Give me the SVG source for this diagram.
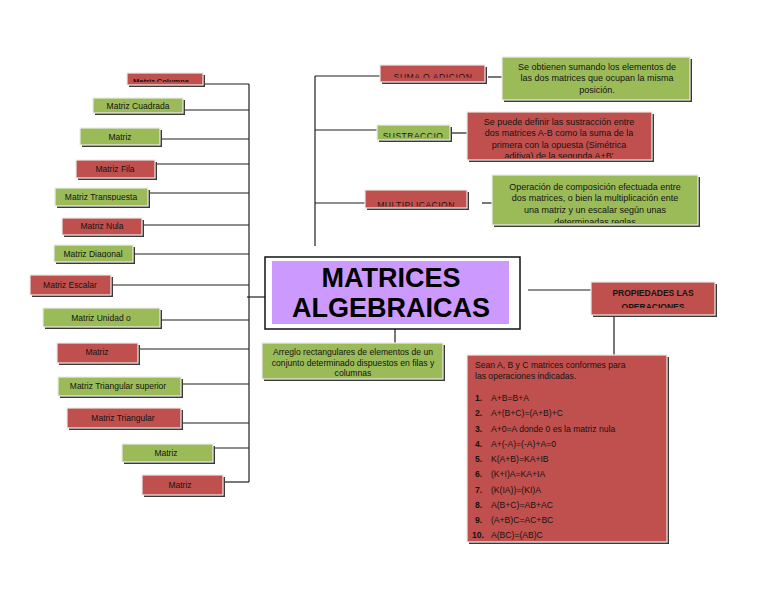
<svg xmlns="http://www.w3.org/2000/svg" width="768" height="594" viewBox="0 0 768 594">
<style>
.sh{fill:#3a3a3a}
.r{fill:#c0504d;stroke:#ececec;stroke-width:1.2}
.g{fill:#9bbb59;stroke:#ececec;stroke-width:1.2}
.ln{stroke:#1e1e1e;stroke-width:1.2;fill:none}
.t{font-family:"Liberation Sans",Arial,sans-serif;font-size:8.5px;fill:#141414;text-anchor:middle}
.d{font-family:"Liberation Sans",Arial,sans-serif;font-size:9px;fill:#141414;text-anchor:middle}
.b{font-weight:bold}
.l{font-family:"Liberation Sans",Arial,sans-serif;font-size:8.6px;fill:#141414}
.title{font-family:"Liberation Sans",Arial,sans-serif;font-size:27px;font-weight:bold;fill:#000;text-anchor:middle}
</style>
<defs>
<clipPath id="c1"><rect x="127" y="73" width="76" height="9"/></clipPath>
<clipPath id="c5"><rect x="55" y="188" width="93" height="12.5"/></clipPath>
<clipPath id="c7"><rect x="54" y="245" width="79" height="12.5"/></clipPath>
<clipPath id="cs"><rect x="380" y="65" width="105" height="12.8"/></clipPath>
<clipPath id="cu"><rect x="377" y="125" width="73" height="12.5"/></clipPath>
<clipPath id="cm"><rect x="365" y="190" width="102" height="16.5"/></clipPath>
<clipPath id="cp"><rect x="591" y="282" width="124" height="26"/></clipPath>
<clipPath id="cr"><rect x="467" y="112" width="185" height="46"/></clipPath>
<clipPath id="cg"><rect x="492" y="175" width="206" height="48"/></clipPath>
</defs>

<g id="connectors">
<path class="ln" d="M249 84V482"/>
<path class="ln" d="M205 84H249"/>
<path class="ln" d="M185 110H249"/>
<path class="ln" d="M162 139H249"/>
<path class="ln" d="M157 164H249"/>
<path class="ln" d="M150 193H249"/>
<path class="ln" d="M144 225H249"/>
<path class="ln" d="M135 254H249"/>
<path class="ln" d="M113 285H249"/>
<path class="ln" d="M162 320H249"/>
<path class="ln" d="M140 349H249"/>
<path class="ln" d="M183 384H249"/>
<path class="ln" d="M183 423H249"/>
<path class="ln" d="M215 448H249"/>
<path class="ln" d="M225 482H249"/>
<path class="ln" d="M247 297H265"/>
<path class="ln" d="M315 76V246"/>
<path class="ln" d="M315 76H380"/>
<path class="ln" d="M315 130H377"/>
<path class="ln" d="M315 203H365"/>
<path class="ln" d="M488 77H502"/>
<path class="ln" d="M452 133H467"/>
<path class="ln" d="M482 203H492"/>
<path class="ln" d="M395 329V343"/>
<path class="ln" d="M528 290H591"/>
<path class="ln" d="M614 316V355"/>
</g>

<g id="n-columna"><rect class="sh" x="129" y="75" width="76" height="12"/><rect class="r" x="127" y="73" width="76" height="12"/><text class="t b" x="161" y="83.5" clip-path="url(#c1)" style="font-size:7.5px">Matriz Columna</text></g>
<g id="n-cuadrada"><rect class="sh" x="95" y="100" width="90" height="15"/><rect class="g" x="93" y="98" width="90" height="15"/><text class="t" x="138" y="109">Matriz  Cuadrada</text></g>
<g id="n-matriz1"><rect class="sh" x="82" y="130" width="80" height="17"/><rect class="g" x="80" y="128" width="80" height="17"/><text class="t" x="120" y="140">Matriz</text></g>
<g id="n-fila"><rect class="sh" x="78" y="162" width="79" height="18"/><rect class="r" x="76" y="160" width="79" height="18"/><text class="t" x="115" y="172">Matriz  Fila</text></g>
<g id="n-transpuesta"><rect class="sh" x="57" y="190" width="93" height="18"/><rect class="g" x="55" y="188" width="93" height="18"/><text class="t" x="101" y="200" clip-path="url(#c5)">Matriz  Transpuesta</text></g>
<g id="n-nula"><rect class="sh" x="64" y="220" width="80" height="17"/><rect class="r" x="62" y="218" width="80" height="17"/><text class="t" x="102" y="229">Matriz  Nula</text></g>
<g id="n-diagonal"><rect class="sh" x="56" y="247" width="79" height="17"/><rect class="g" x="54" y="245" width="79" height="17"/><text class="t" x="93" y="257" clip-path="url(#c7)">Matriz  Diagonal</text></g>
<g id="n-escalar"><rect class="sh" x="32" y="277" width="81" height="20"/><rect class="r" x="30" y="275" width="81" height="20"/><text class="t" x="70" y="288">Matriz  Escalar</text></g>
<g id="n-unidad"><rect class="sh" x="45" y="310" width="117" height="19"/><rect class="g" x="43" y="308" width="117" height="19"/><text class="t" x="101" y="321">Matriz  Unidad o</text></g>
<g id="n-matriz2"><rect class="sh" x="59" y="345" width="81" height="20"/><rect class="r" x="57" y="343" width="81" height="20"/><text class="t" x="97" y="355">Matriz</text></g>
<g id="n-trisup"><rect class="sh" x="60" y="379" width="123" height="19"/><rect class="g" x="58" y="377" width="123" height="19"/><text class="t" x="118" y="389">Matriz  Triangular superior</text></g>
<g id="n-tri"><rect class="sh" x="69" y="410" width="114" height="20"/><rect class="r" x="67" y="408" width="114" height="20"/><text class="t" x="123" y="421">Matriz  Triangular</text></g>
<g id="n-matriz3"><rect class="sh" x="124" y="446" width="91" height="18"/><rect class="g" x="122" y="444" width="91" height="18"/><text class="t" x="166" y="456">Matriz</text></g>
<g id="n-matriz4"><rect class="sh" x="144" y="477" width="81" height="20"/><rect class="r" x="142" y="475" width="81" height="20"/><text class="t" x="180" y="488">Matriz</text></g>

<g id="n-suma"><rect class="sh" x="382" y="67" width="105" height="17"/><rect class="r" x="380" y="65" width="105" height="17"/><text class="t" x="433" y="79.5" clip-path="url(#cs)" style="letter-spacing:0.6px">SUMA O ADICION</text></g>
<g id="n-suma-desc"><rect class="sh" x="504" y="59" width="188" height="43"/><rect class="g" x="502" y="57" width="188" height="43"/>
<text class="d" x="597" y="70">Se obtienen sumando los elementos de</text>
<text class="d" x="597" y="81">las dos matrices que ocupan la misma</text>
<text class="d" x="597" y="93">posición.</text></g>

<g id="n-sustraccion"><rect class="sh" x="379" y="127" width="73" height="15"/><rect class="g" x="377" y="125" width="73" height="15"/><text class="t" x="413" y="138.5" clip-path="url(#cu)" style="letter-spacing:0.5px">SUSTRACCIO</text></g>
<g id="n-sustraccion-desc"><rect class="sh" x="469" y="114" width="185" height="48"/><rect class="r" x="467" y="112" width="185" height="48"/>
<g clip-path="url(#cr)">
<text class="d" x="559" y="125">Se puede definir las sustracción entre</text>
<text class="d" x="559" y="136">dos matrices A-B como la suma de la</text>
<text class="d" x="559" y="148">primera con la opuesta (Simétrica</text>
<text class="d" x="559" y="159">aditiva) de la segunda A+B'</text></g></g>

<g id="n-multiplicacion"><rect class="sh" x="367" y="192" width="102" height="18"/><rect class="r" x="365" y="190" width="102" height="18"/><text class="t" x="416" y="207.5" clip-path="url(#cm)" style="letter-spacing:0.5px">MULTIPLICACION</text></g>
<g id="n-multiplicacion-desc"><rect class="sh" x="494" y="177" width="206" height="50"/><rect class="g" x="492" y="175" width="206" height="50"/>
<g clip-path="url(#cg)">
<text class="d" x="595" y="190">Operación de composición efectuada entre</text>
<text class="d" x="595" y="201">dos matrices, o bien la multiplicación ente</text>
<text class="d" x="595" y="213">una matriz y un escalar según unas</text>
<text class="d" x="595" y="225">determinadas reglas</text></g></g>

<g id="n-main"><rect x="265" y="257" width="255" height="72" fill="#fff" stroke="#111" stroke-width="1.5"/><rect x="272" y="261" width="237" height="63" fill="#cc99ff"/>
<text class="title" x="391" y="287">MATRICES</text>
<text class="title" x="391" y="317">ALGEBRAICAS</text></g>

<g id="n-def"><rect class="sh" x="264" y="345" width="181" height="36"/><rect class="g" x="262" y="343" width="181" height="36"/>
<text class="t" x="353" y="355" style="font-size:8.6px">Arreglo rectangulares de elementos de un</text>
<text class="t" x="353" y="365.5" style="font-size:8.6px">conjunto determinado dispuestos en filas y</text>
<text class="t" x="353" y="376" style="font-size:8.6px">columnas</text></g>

<g id="n-propiedades"><rect class="sh" x="593" y="284" width="124" height="33"/><rect class="r" x="591" y="282" width="124" height="33"/>
<g clip-path="url(#cp)"><text class="t b" x="653" y="296">PROPIEDADES LAS</text><text class="t b" x="653" y="310">OPERACIONES</text></g></g>

<g id="n-lista"><rect class="sh" x="469" y="357" width="200" height="187"/><rect class="r" x="467" y="355" width="200" height="187"/>
<text class="l" x="475" y="368">Sean A, B y C matrices conformes para</text>
<text class="l" x="475" y="379">las operaciones indicadas.</text>
<g class="l"><text x="475" y="401"><tspan font-weight="bold">1.</tspan><tspan x="491">A+B=B+A</tspan></text>
<text x="475" y="416"><tspan font-weight="bold">2.</tspan><tspan x="491">A+(B+C)=(A+B)+C</tspan></text>
<text x="475" y="432"><tspan font-weight="bold">3.</tspan><tspan x="491">A+0=A donde 0 es la matriz nula</tspan></text>
<text x="475" y="447"><tspan font-weight="bold">4.</tspan><tspan x="491">A+(-A)=(-A)+A=0</tspan></text>
<text x="475" y="462"><tspan font-weight="bold">5.</tspan><tspan x="491">K(A+B)=KA+IB</tspan></text>
<text x="475" y="477"><tspan font-weight="bold">6.</tspan><tspan x="491">(K+I)A=KA+IA</tspan></text>
<text x="475" y="493"><tspan font-weight="bold">7.</tspan><tspan x="491">(K(IA))=(KI)A</tspan></text>
<text x="475" y="508"><tspan font-weight="bold">8.</tspan><tspan x="491">A(B+C)=AB+AC</tspan></text>
<text x="475" y="523"><tspan font-weight="bold">9.</tspan><tspan x="491">(A+B)C=AC+BC</tspan></text>
<text x="472" y="538"><tspan font-weight="bold">10.</tspan><tspan x="491">A(BC)=(AB)C</tspan></text></g></g>
</svg>
